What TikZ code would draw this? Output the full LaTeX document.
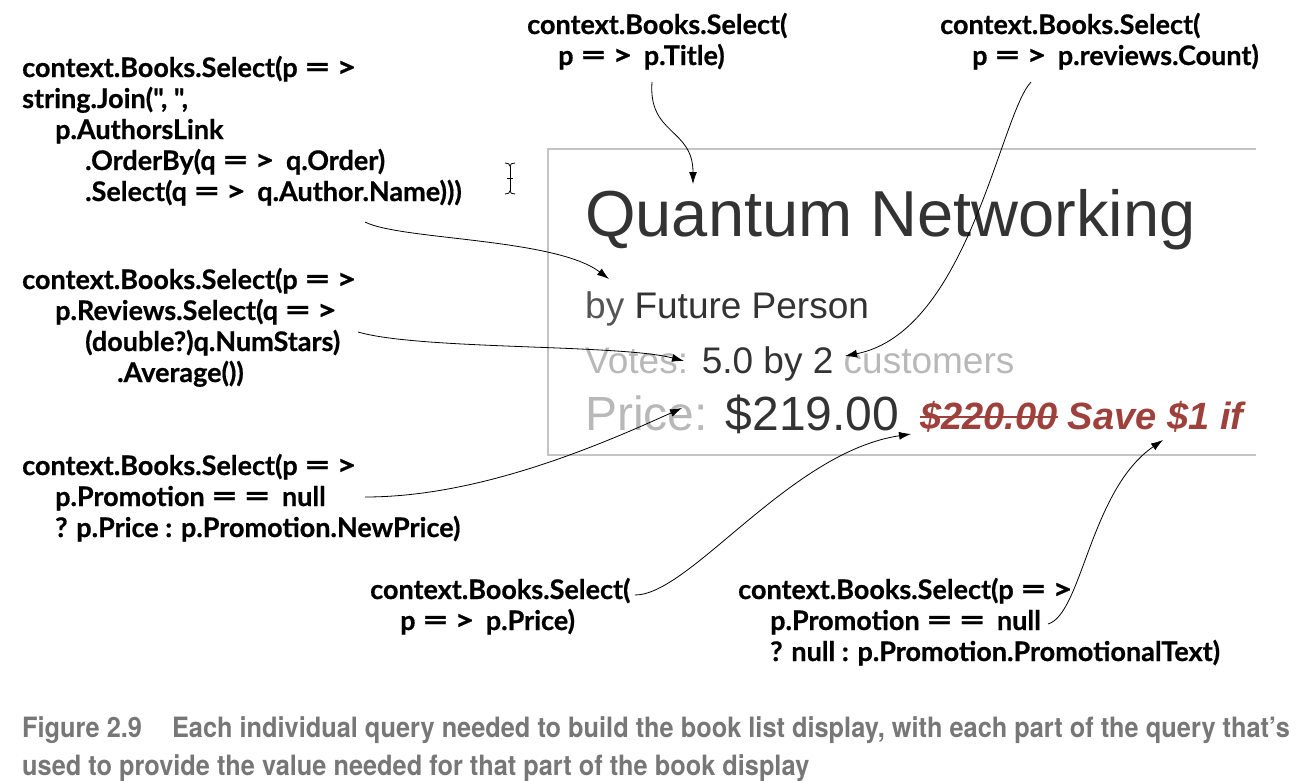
\documentclass[tikz,border=0pt]{standalone}
\usepackage{fontspec}
\usepackage{graphicx}
\setmainfont{Liberation Sans}
\newfontfamily\codefont[FakeBold=0.6]{Lato}
\newfontfamily\capfont[FakeStretch=0.905]{TeX Gyre Heros}
\newfontfamily\uifont{Liberation Sans}
\usetikzlibrary{arrows.meta}
\definecolor{dark}{HTML}{333333}
\definecolor{lightg}{HTML}{B8B8B8}
\definecolor{byg}{HTML}{555555}
\definecolor{promo}{HTML}{9E403B}
\definecolor{capg}{HTML}{777777}
\definecolor{boxg}{HTML}{C4C4C4}
\tikzset{
  code/.style={anchor=base west, inner sep=0pt, font=\codefont\bfseries\fontsize{27}{31}\selectfont},
  ui/.style={anchor=base west, inner sep=0pt, text=dark},
  arr/.style={-{Latex[length=12pt,width=8pt]}, line width=0.8pt},
  boxline/.style={draw=boxg, line width=1.2pt},
}
\newcommand{\ind}[1]{\hspace*{#1pt}}
\newcommand{\eqg}{\scalebox{1.7}[1.1]{=}}
\newcommand{\ar}{\eqg\kern6pt\scalebox{1.25}[1.05]{>}\kern5pt}
\newcommand{\eq}{\eqg\kern6pt\eqg\kern5pt}
\begin{document}
\begin{tikzpicture}[x=1pt,y=-1pt]
\useasboundingbox (0,0) rectangle (1300,780);

% book display box
\draw[boxline] (1256,149) -- (548,149) -- (548,455) -- (1256,455);
\node[ui, font=\uifont\fontsize{65}{70}\selectfont] (title) at (585,236) {Quantum Networking};
\node[ui, font=\uifont\fontsize{37}{40}\selectfont] (author) at (585,318) {{\color{byg}by} Future Person};
\node[ui, font=\uifont\fontsize{37}{40}\selectfont] (votes) at (585,373) {{\color{lightg}Votes:} 5.0 by 2 {\color{lightg}customers}};
\node[ui, font=\uifont\fontsize{48}{50}\selectfont] (price) at (585,430) {{\color{lightg}Price:} \$219.00};
\node[ui, text=promo, font=\uifont\bfseries\itshape\fontsize{38}{40}\selectfont] (old) at (920,429) {\$220.00};
\draw[promo, line width=2.6pt] ([yshift=12pt]old.base west) -- ([yshift=12pt]old.base east);
\node[ui, text=promo, font=\uifont\bfseries\itshape\fontsize{38}{40}\selectfont, anchor=base west] (save) at ([xshift=10pt]old.base east) {Save \$1 if};

% I-beam cursor
\draw[line width=0.8pt] (510,166) -- (510,191);
\draw[line width=0.8pt] (505,163) .. controls (508,163) and (510,164) .. (510,166) .. controls (510,164) and (512,163) .. (515,163);
\draw[line width=0.8pt] (505,194) .. controls (508,194) and (510,193) .. (510,191) .. controls (510,193) and (512,194) .. (515,194);
\draw[line width=0.8pt] (507,178) -- (513,178);

% code blocks
\node[code] (authors) at (22,77) {\begin{tabular}[t]{@{}l@{}}
context.Books.Select(p \ar\\
string.Join(", ",\\
\ind{33}p.AuthorsLink\\
\ind{63}.OrderBy(q \ar{} q.Order)\\
\ind{63}.Select(q \ar{} q.Author.Name)))
\end{tabular}};
\node[code] (avg) at (22,289) {\begin{tabular}[t]{@{}l@{}}
context.Books.Select(p \ar\\
\ind{33}p.Reviews.Select(q \ar\\
\ind{63}(double?)q.NumStars)\\
\ind{95}.Average())
\end{tabular}};
\node[code] (newprice) at (22,475) {\begin{tabular}[t]{@{}l@{}}
context.Books.Select(p \ar\\
\ind{33}p.Promotion \eq{} null\\
\ind{33}? p.Price : p.Promotion.NewPrice)
\end{tabular}};
\node[code] (titleq) at (527,34) {\begin{tabular}[t]{@{}l@{}}
context.Books.Select(\\
\ind{31}p \ar{} p.Title)
\end{tabular}};
\node[code] (countq) at (940,34) {\begin{tabular}[t]{@{}l@{}}
context.Books.Select(\\
\ind{32}p \ar{} p.reviews.Count)
\end{tabular}};
\node[code] (priceq) at (370,599) {\begin{tabular}[t]{@{}l@{}}
context.Books.Select(\\
\ind{30}p \ar{} p.Price)
\end{tabular}};
\node[code] (promoq) at (738,599) {\begin{tabular}[t]{@{}l@{}}
context.Books.Select(p \ar\\
\ind{32}p.Promotion \eq{} null\\
\ind{32}? null : p.Promotion.PromotionalText)
\end{tabular}};

% caption
\node[anchor=base west, inner sep=0pt, text=capg, font=\capfont\bfseries\fontsize{28}{38}\selectfont] (caption) at (22,737) {\begin{tabular}[t]{@{}l@{}}
Figure 2.9\hspace{30pt}Each individual query needed to build the book list display, with each part of the query that’s\\
used to provide the value needed for that part of the book display
\end{tabular}};

% connector end points
\coordinate (s1) at (652,82);   \coordinate (e1) at (693,184);
\coordinate (s2) at (1031,82);  \coordinate (e2) at (845,356);
\coordinate (s3) at (365,222);  \coordinate (e3) at (609,279);
\coordinate (s4) at (358,332);  \coordinate (e4) at (684,361);
\coordinate (s5) at (365,497);  \coordinate (e5) at (682,408);
\coordinate (s6) at (635,595);  \coordinate (e6) at (911,434);
\coordinate (s7) at (1048,624); \coordinate (e7) at (1163,440);

\draw[arr] (s1) .. controls (648,135) and (693,128) .. (e1);
\draw[arr] (s2) .. controls (1000,115) and (968,332) .. (e2);
\draw[arr] (s3) .. controls (400,240) and (555,238) .. (e3);
\draw[arr] (s4) .. controls (420,350) and (620,344) .. (e4);
\draw[arr] (s5) .. controls (480,497) and (600,445) .. (e5);
\draw[arr] (s6) .. controls (690,595) and (790,452) .. (e6);
\draw[arr] (s7) .. controls (1082,614) and (1090,490) .. (e7);
\end{tikzpicture}
\end{document}
